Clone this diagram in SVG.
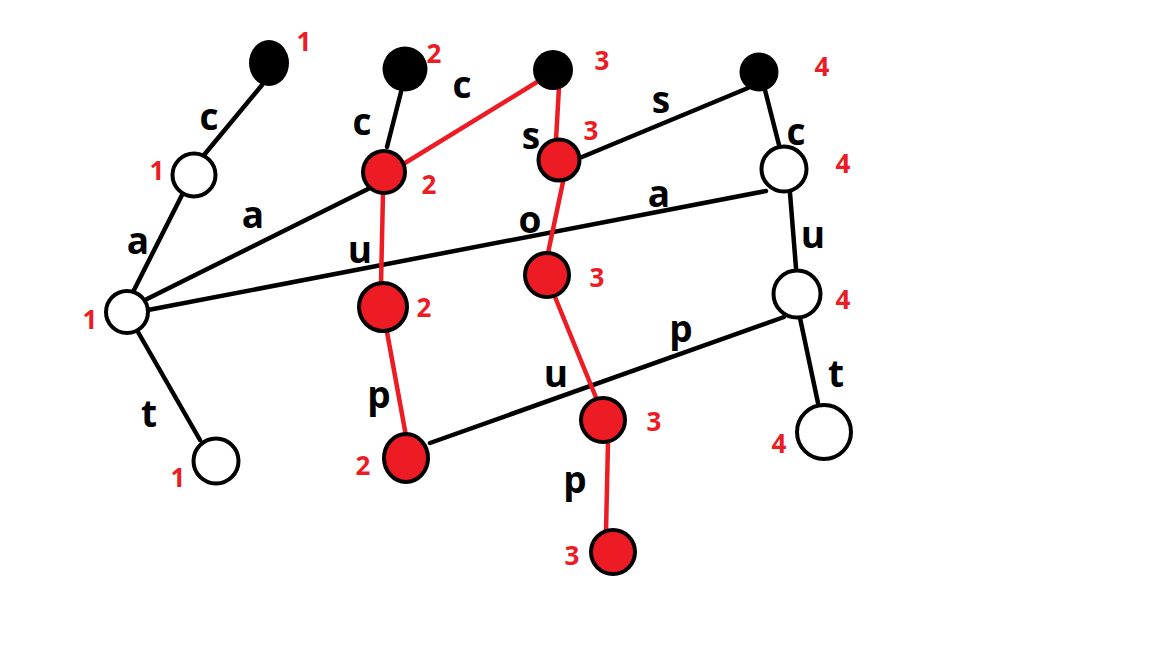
<svg xmlns="http://www.w3.org/2000/svg" width="1152" height="648" viewBox="0 0 1152 648">
<style>
.bg{fill:#ffffff}
.e{stroke:#000;stroke-width:4.5;stroke-linecap:round;fill:none}
.r{stroke:#ED1C24;stroke-width:4.5;stroke-linecap:round;fill:none}
.blk{fill:#000}
.wht{fill:#fff;stroke:#000;stroke-width:4}
.red{fill:#ED1C24;stroke:#000;stroke-width:4}
.lb{font-family:"Open Sans","Liberation Sans",sans-serif;font-weight:bold;font-size:37px;fill:#000;text-anchor:middle}
.nm{font-family:"Open Sans","Liberation Sans",sans-serif;font-weight:bold;font-size:26px;fill:#ED1C24;text-anchor:middle}
</style>
<rect class="bg" x="0" y="0" width="1152" height="648"/>
<g id="connectors">
<line class="e" x1="262" y1="85" x2="204" y2="155"/>
<line class="e" x1="182" y1="195" x2="133" y2="292"/>
<line class="e" x1="138" y1="332" x2="200" y2="440"/>
<line class="e" x1="147" y1="299" x2="370" y2="188"/>
<line class="e" x1="148" y1="310" x2="766" y2="191"/>
<line class="e" x1="401" y1="92" x2="387" y2="147"/>
<line class="e" x1="430" y1="443" x2="784" y2="317"/>
<line class="e" x1="582" y1="157" x2="748" y2="88"/>
<line class="e" x1="765" y1="90" x2="779" y2="145"/>
<line class="e" x1="790" y1="193" x2="796" y2="268"/>
<line class="e" x1="800" y1="318" x2="818" y2="403"/>
<line class="r" x1="405" y1="163" x2="537" y2="82"/>
<line class="r" x1="559" y1="87" x2="556" y2="140"/>
<line class="r" x1="563" y1="182" x2="548" y2="253"/>
<line class="r" x1="555" y1="297" x2="597" y2="400"/>
<line class="r" x1="608" y1="442" x2="606" y2="532"/>
<line class="r" x1="383" y1="193" x2="381" y2="285"/>
<line class="r" x1="387" y1="332" x2="406" y2="436"/>
</g>
<g id="edge-labels">
<text class="lb" x="209" y="130">c</text>
<text class="lb" x="138" y="254">a</text>
<text class="lb" x="253" y="228">a</text>
<text class="lb" x="149" y="427">t</text>
<text class="lb" x="362" y="135">c</text>
<text class="lb" x="360" y="263">u</text>
<text class="lb" x="379" y="408">p</text>
<text class="lb" x="462" y="98">c</text>
<text class="lb" x="531" y="149">s</text>
<text class="lb" x="661" y="113">s</text>
<text class="lb" x="530" y="233">o</text>
<text class="lb" x="659" y="207">a</text>
<text class="lb" x="556" y="387">u</text>
<text class="lb" x="681" y="342">p</text>
<text class="lb" x="575" y="493">p</text>
<text class="lb" x="796" y="145">c</text>
<text class="lb" x="813" y="248">u</text>
<text class="lb" x="836" y="387">t</text>
</g>
<g id="b1"><ellipse class="blk" cx="269" cy="63" rx="20" ry="23"/><text class="nm" x="304" y="51">1</text></g>
<g id="b2"><circle class="blk" cx="405" cy="69" r="22.5"/><text class="nm" x="434" y="63">2</text></g>
<g id="b3"><circle class="blk" cx="553" cy="70" r="20"/><text class="nm" x="602" y="70">3</text></g>
<g id="b4"><circle class="blk" cx="759" cy="72" r="19.5"/><text class="nm" x="822" y="76">4</text></g>
<g id="w-c1"><circle class="wht" cx="194" cy="175" r="21.5"/><text class="nm" x="157" y="180">1</text></g>
<g id="w-root"><circle class="wht" cx="127" cy="312" r="21"/><text class="nm" x="90" y="329">1</text></g>
<g id="w-t1"><circle class="wht" cx="216" cy="461" r="22.5"/><text class="nm" x="178" y="487">1</text></g>
<g id="r-c2"><circle class="red" cx="384" cy="172" r="21"/><text class="nm" x="429" y="194">2</text></g>
<g id="r-u2"><circle class="red" cx="383" cy="307" r="24"/><text class="nm" x="424" y="317">2</text></g>
<g id="r-p2"><ellipse class="red" cx="406" cy="458" rx="22" ry="24"/><text class="nm" x="363" y="475">2</text></g>
<g id="r-s3"><circle class="red" cx="559" cy="160" r="20.5"/><text class="nm" x="591" y="140">3</text></g>
<g id="r-o3"><circle class="red" cx="547" cy="275" r="22"/><text class="nm" x="597" y="287">3</text></g>
<g id="r-u3"><circle class="red" cx="603" cy="420" r="22"/><text class="nm" x="654" y="431">3</text></g>
<g id="r-p3"><circle class="red" cx="613" cy="552" r="22"/><text class="nm" x="572" y="565">3</text></g>
<g id="w-c4"><circle class="wht" cx="784" cy="169" r="22.5"/><text class="nm" x="843" y="173">4</text></g>
<g id="w-u4"><circle class="wht" cx="797" cy="294" r="23.5"/><text class="nm" x="843" y="309">4</text></g>
<g id="w-t4"><circle class="wht" cx="824" cy="432" r="27"/><text class="nm" x="779" y="453">4</text></g>
</svg>
